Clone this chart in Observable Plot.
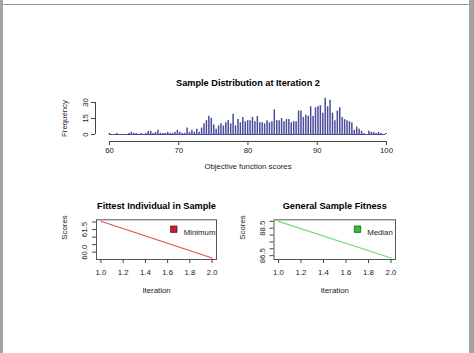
<!DOCTYPE html>
<html><head><meta charset="utf-8">
<script src="https://cdn.jsdelivr.net/npm/d3@7"></script>
<script src="https://cdn.jsdelivr.net/npm/@observablehq/plot@0.6"></script>
<style>
body{margin:0;background:#fff;}
#wrap{position:relative;width:474px;height:353px;overflow:hidden;background:#fff;font-family:"Liberation Sans",Arial,sans-serif;}
#wrap > svg, #wrap > figure{position:absolute;margin:0;}
.edge{position:absolute;background:#a3a3a3;}
</style></head><body><div id="wrap">
<div class="edge" style="left:0;top:0;width:3px;height:353px"></div>
<div class="edge" style="left:469px;top:0;width:5px;height:353px"></div>
<div class="edge" style="left:3px;top:4px;width:466px;height:1px;background:#9a9a9a"></div>
</div>
<script>
// Histogram data
const scores = [60.00,60.35,60.70,61.05,61.40,61.75,62.10,62.45,62.80,63.15,63.50,63.85,64.20,64.55,64.90,65.25,65.60,65.95,66.30,66.65,67.00,67.35,67.70,68.05,68.40,68.75,69.10,69.45,69.80,70.15,70.50,70.85,71.20,71.55,71.90,72.25,72.60,72.95,73.30,73.65,74.00,74.35,74.70,75.05,75.40,75.75,76.10,76.45,76.80,77.15,77.50,77.85,78.20,78.55,78.90,79.25,79.60,79.95,80.30,80.65,81.00,81.35,81.70,82.05,82.40,82.75,83.10,83.45,83.80,84.15,84.50,84.85,85.20,85.55,85.90,86.25,86.60,86.95,87.30,87.65,88.00,88.35,88.70,89.05,89.40,89.75,90.10,90.45,90.80,91.15,91.50,91.85,92.20,92.55,92.90,93.25,93.60,93.95,94.30,94.65,95.00,95.35,95.70,96.05,96.40,96.75,97.10,97.45,97.80,98.15,98.50,98.85,99.20,99.55,99.90];
const frequencies = [1,0,0,1,0,0,0,0,1,2, 1,1,0,1,0,1,3,3,1,2, 4,1,1,1,2,1,1,2,4,2, 1,1,6,2,4,2,5,2,6,10, 13,17,15,9,5,8,10,8,11,13, 10,19,8,14,11,16,12,13,13,16, 12,17,11,11,10,13,11,12,23,13, 13,15,12,14,14,11,12,12,22,22, 16,18,17,26,17,25,26,27,20,34, 26,32,20,13,22,25,16,14,13,12, 11,4,7,5,3,1,0,3,2,2, 1,2,1,0,1];
const histXTicks = [60,70,80,90,100];
const histYTicks = [0,15,30];

// Line panels
const iterations = [1, 2];
const minimumScores = [62.05, 59.61];
const medianScores = [89.00, 86.33];
const iterTicks = [1.0,1.2,1.4,1.6,1.8,2.0];
const minYTicks = [60.0,60.5,61.0,61.5,62.0];
const minYLabels = [60.0,61.5];
const medYTicks = [86.5,87.0,87.5,88.0,88.5,89.0];
const medYLabels = [86.5,88.5];

const FONT = '"Liberation Sans", Arial, sans-serif';
const TXT = "#1a1a1a";
const AX = "#444";
const barColor = "#4b4b9c";
const FS = 7.8, TFS = 9.2;

const wrap = document.getElementById("wrap");
function place(el, left, top){ el.style.left = left+"px"; el.style.top = top+"px"; wrap.appendChild(el); }

const histData = scores.map((s,i)=>({score:s, freq:frequencies[i]}));

// ---- Histogram ----
const hist = Plot.plot({
  width: 474, height: 125,
  marginLeft: 95, marginRight: 79, marginTop: 34, marginBottom: 44,
  style: {fontFamily: FONT, fontSize: FS+"px", color: TXT, background: "transparent", overflow: "visible"},
  x: {domain: [57.98, 101.3], axis: null},
  y: {domain: [-6.56, 37.5], axis: null},
  marks: [
    Plot.ruleY([0], {x1: d3.min(scores), x2: d3.max(scores), stroke: barColor, strokeWidth: 1}),
    Plot.ruleX(histData, {x: "score", y1: 0, y2: "freq", stroke: barColor, strokeWidth: 1.5}),
    Plot.ruleY([-6.56], {x1: d3.min(histXTicks), x2: d3.max(histXTicks), stroke: AX}),
    Plot.axisX({ticks: histXTicks, tickSize: 4, tickPadding: 2, label: null, stroke: AX, fill: TXT, fontSize: FS}),
    Plot.ruleX([57.98], {y1: d3.min(histYTicks), y2: d3.max(histYTicks), stroke: AX}),
    Plot.axisY({ticks: histYTicks, tickSize: 4, tickPadding: 4, tickRotate: -90, label: null, stroke: AX, fill: TXT, fontSize: FS}),
    Plot.text(["Frequency"], {x: 57.98, y: () => d3.mean(histYTicks), dx: -31, rotate: -90, fill: TXT, fontSize: FS}),
    Plot.text(["Objective function scores"], {x: () => d3.mean(histXTicks), frameAnchor: "bottom", dy: 27, fill: TXT, fontSize: FS}),
    Plot.text(["Sample Distribution at Iteration 2"], {x: () => d3.mean(histXTicks), frameAnchor: "top", dy: -15, fontWeight: "bold", fontSize: TFS, fill: "#000"})
  ]
});
place(hist, 0, 60);

function linePanel({values, yTicks, yLabels, yDomain, color, legendFill, legendStroke, legendText, title, width, ml, mr, sqDx, txDx}) {
  const data = iterations.map((it,i)=>({it, v: values[i]}));
  return Plot.plot({
    width, height: 130,
    marginLeft: ml, marginRight: mr, marginTop: 39.3, marginBottom: 51,
    style: {fontFamily: FONT, fontSize: FS+"px", color: TXT, background: "transparent", overflow: "visible"},
    x: {domain: [0.96, 2.04], axis: null},
    y: {domain: yDomain, axis: null},
    marks: [
      Plot.frame({stroke: "#555"}),
      Plot.line(data, {x: "it", y: "v", stroke: color, strokeWidth: 1.2}),
      Plot.axisX({ticks: iterTicks, tickSize: 4, tickPadding: 6, tickFormat: d => d.toFixed(1), label: null, stroke: AX, fill: TXT, fontSize: FS}),
      Plot.axisY({ticks: yTicks, tickSize: 4, tickPadding: 5.5, tickRotate: -90, tickFormat: d => yLabels.includes(d) ? d.toFixed(1) : "", label: null, stroke: AX, fill: TXT, fontSize: FS}),
      Plot.text(["Scores"], {frameAnchor: "left", dx: -32, rotate: -90, fill: TXT, fontSize: FS}),
      Plot.text(["Iteration"], {frameAnchor: "bottom", dy: 33, fill: TXT, fontSize: FS}),
      Plot.text([title], {frameAnchor: "top", dy: -17.5, fontWeight: "bold", fontSize: TFS, fill: "#000"}),
      Plot.dot([legendText], {frameAnchor: "top-right", dx: sqDx, dy: 9.4, symbol: "square", r: 3.6, fill: legendFill, stroke: legendStroke, strokeWidth: 0.8}),
      Plot.text([legendText], {frameAnchor: "top-right", dx: txDx, dy: 9.4, textAnchor: "start", fill: TXT, fontSize: FS})
    ]
  });
}

const left = linePanel({values: minimumScores, yTicks: minYTicks, yLabels: minYLabels, yDomain: [59.51, 62.15],
  color: "#ef4b4b", legendFill: "#c8202c", legendStroke: "#5a1212", legendText: "Minimum",
  title: "Fittest Individual in Sample", width: 240, ml: 96, mr: 24, sqDx: -42.7, txDx: -32.7});
place(left, 0, 180);

const right = linePanel({values: medianScores, yTicks: medYTicks, yLabels: medYLabels, yDomain: [86.22, 89.11],
  color: "#6fe06f", legendFill: "#2fbf2f", legendStroke: "#145c14", legendText: "Median",
  title: "General Sample Fitness", width: 234, ml: 33.5, mr: 79, sqDx: -38, txDx: -28.3});
place(right, 240, 180);
</script></body></html>
